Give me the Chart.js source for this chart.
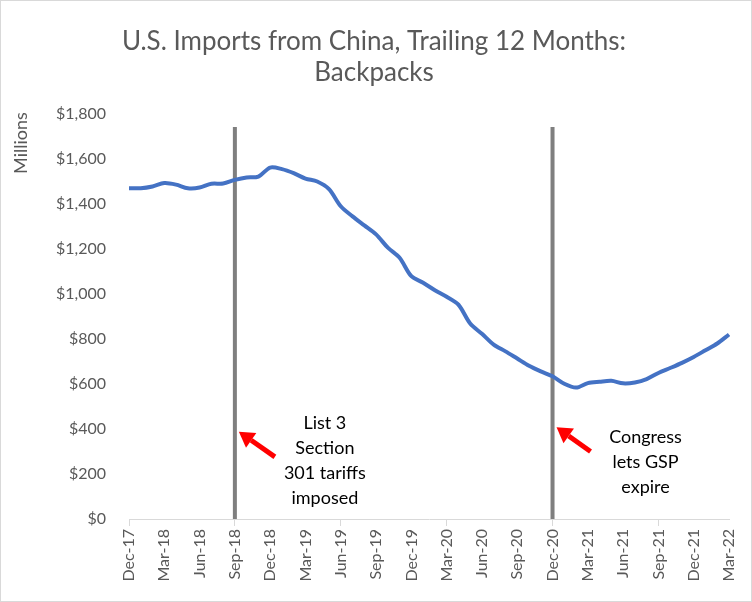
<!DOCTYPE html>
<html>
<head>
<meta charset="utf-8">
<script src="https://cdn.jsdelivr.net/npm/chart.js@4/dist/chart.umd.min.js"></script>
<style>
  html, body { margin: 0; padding: 0; background: #ffffff; }
  #wrap { width: 752px; height: 602px; position: relative; }
  canvas { display: block; }
</style>
</head>
<body>
<div id="wrap"><canvas id="c" width="752" height="602"></canvas></div>
<script>
const months = [
  "Dec-17","Jan-18","Feb-18","Mar-18","Apr-18","May-18","Jun-18","Jul-18","Aug-18","Sep-18","Oct-18","Nov-18",
  "Dec-18","Jan-19","Feb-19","Mar-19","Apr-19","May-19","Jun-19","Jul-19","Aug-19","Sep-19","Oct-19","Nov-19",
  "Dec-19","Jan-20","Feb-20","Mar-20","Apr-20","May-20","Jun-20","Jul-20","Aug-20","Sep-20","Oct-20","Nov-20",
  "Dec-20","Jan-21","Feb-21","Mar-21","Apr-21","May-21","Jun-21","Jul-21","Aug-21","Sep-21","Oct-21","Nov-21",
  "Dec-21","Jan-22","Feb-22","Mar-22"
];
const importsMillions = [
  1470, 1470, 1478, 1493, 1486, 1470, 1473, 1490, 1491, 1507, 1518, 1522,
  1562, 1555, 1537, 1513, 1500, 1466, 1390, 1345, 1305, 1265, 1206, 1161,
  1079, 1050, 1017, 988, 953, 869, 823, 775, 745, 713, 681, 656,
  634, 601, 584, 604, 610, 614, 603, 607, 622, 649, 671, 694,
  720, 750, 780, 820
];
const yTicks = [0, 200, 400, 600, 800, 1000, 1200, 1400, 1600, 1800];
const titleLines = ["U.S. Imports from China, Trailing 12 Months:", "Backpacks"];
const events = [
  { month: "Sep-18", lines: ["List 3", "Section", "301 tariffs", "imposed"] },
  { month: "Dec-20", lines: ["Congress", "lets GSP", "expire"] }
];

const FONT = "Lato, 'Open Sans', sans-serif";
const GREY = "#595959";

const overlay = {
  id: "overlay",
  afterDraw(chart) {
    const ctx = chart.ctx;
    ctx.save();
    ctx.strokeStyle = "#d9d9d9";
    ctx.lineWidth = 1;
    ctx.strokeRect(0.5, 0.5, chart.width - 1, chart.height - 1);
    ctx.fillStyle = GREY;
    ctx.font = "26px " + FONT;
    ctx.textAlign = "center";
    ctx.textBaseline = "middle";
    ctx.fillText(titleLines[0], 374, 42);
    ctx.fillText(titleLines[1], 374, 73);
    ctx.save();
    ctx.translate(21, 143);
    ctx.rotate(-Math.PI / 2);
    ctx.font = "18px " + FONT;
    ctx.fillText("Millions", 0, 0);
    ctx.restore();
    ctx.restore();
  },
  beforeDatasetsDraw(chart) {
    const ctx = chart.ctx;
    const xs = chart.scales.x, ys = chart.scales.y;
    ctx.save();
    events.forEach((ev) => {
      const x = xs.getPixelForValue(months.indexOf(ev.month));
      ctx.strokeStyle = "#7f7f7f";
      ctx.lineWidth = 4;
      ctx.beginPath();
      ctx.moveTo(x, ys.getPixelForValue(1742));
      ctx.lineTo(x, ys.getPixelForValue(0));
      ctx.stroke();
    });
    ctx.restore();
  },
  afterDatasetsDraw(chart) {
    const ctx = chart.ctx;
    const xs = chart.scales.x, ys = chart.scales.y;
    ctx.save();
    const arrows = [
      { tipV: 388, tailV: 276, dTail: 40 },
      { tipV: 408, tailV: 300, dTail: 38 }
    ];
    events.forEach((ev, k) => {
      const x = xs.getPixelForValue(months.indexOf(ev.month));
      const a = arrows[k];
      const tipX = x + 4, tipY = ys.getPixelForValue(a.tipV);
      const tailX = x + a.dTail, tailY = ys.getPixelForValue(a.tailV);
      const ang = Math.atan2(tipY - tailY, tipX - tailX);
      const head = 15, hw = 9;
      const bx = tipX - head * Math.cos(ang), by = tipY - head * Math.sin(ang);
      ctx.strokeStyle = "#ff0000";
      ctx.fillStyle = "#ff0000";
      ctx.lineWidth = 5;
      ctx.beginPath();
      ctx.moveTo(tailX, tailY);
      ctx.lineTo(bx, by);
      ctx.stroke();
      ctx.beginPath();
      ctx.moveTo(tipX, tipY);
      ctx.lineTo(bx + hw * Math.sin(ang), by - hw * Math.cos(ang));
      ctx.lineTo(bx - hw * Math.sin(ang), by + hw * Math.cos(ang));
      ctx.closePath();
      ctx.fill();
    });
    ctx.fillStyle = "#000000";
    ctx.font = "18px " + FONT;
    ctx.textAlign = "center";
    ctx.textBaseline = "middle";
    const x1 = xs.getPixelForValue(months.indexOf(events[0].month));
    events[0].lines.forEach((t, i) => ctx.fillText(t, x1 + 90, 423 + i * 25));
    const x2 = xs.getPixelForValue(months.indexOf(events[1].month));
    events[1].lines.forEach((t, i) => ctx.fillText(t, x2 + 93, 437 + i * 25));
    ctx.restore();
  }
};

new Chart(document.getElementById("c"), {
  type: "line",
  data: {
    labels: months,
    datasets: [{
      data: importsMillions,
      borderColor: "#4472C4",
      borderWidth: 4,
      pointRadius: 0,
      tension: 0.3,
      fill: false
    }]
  },
  options: {
    responsive: false,
    animation: false,
    devicePixelRatio: 1,
    layout: { padding: { left: 0, right: 23, top: 114, bottom: 0 } },
    plugins: { legend: { display: false }, tooltip: { enabled: false }, title: { display: false } },
    scales: {
      x: {
        offset: false,
        afterFit(scale) { scale.height = 83; },
        border: { display: true, color: "#d9d9d9", width: 1 },
        grid: {
          drawOnChartArea: false,
          drawTicks: true,
          tickLength: 7,
          color: (c) => (c.index % 3 === 0 ? "#d9d9d9" : "rgba(0,0,0,0)")
        },
        ticks: {
          autoSkip: false,
          minRotation: 90,
          maxRotation: 90,
          padding: 3,
          color: GREY,
          font: { family: FONT, size: 16 },
          callback: function (v, i) { return i % 3 === 0 ? months[i] : null; }
        }
      },
      y: {
        min: 0,
        max: 1800,
        afterFit(scale) { scale.width = 129; },
        afterBuildTicks(scale) { scale.ticks = yTicks.map(v => ({ value: v })); },
        border: { display: false },
        grid: { display: false },
        ticks: {
          padding: 15,
          color: GREY,
          font: { family: FONT, size: 16 },
          callback: (v) => "$" + Number(v).toLocaleString("en-US")
        }
      }
    }
  },
  plugins: [overlay]
});
</script>
</body>
</html>
